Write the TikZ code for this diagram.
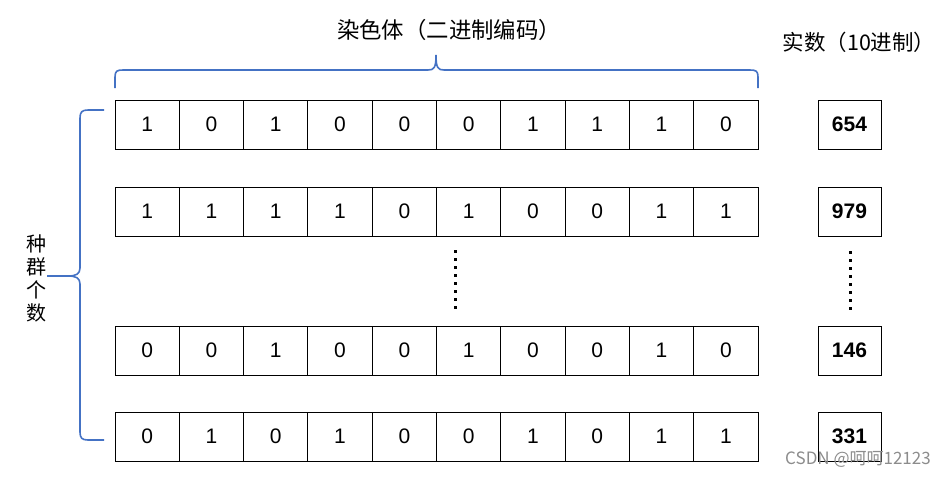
\documentclass[tikz,border=0pt]{standalone}
\usepackage{fontspec}
\setmainfont{Liberation Sans}
\newfontfamily\cjk{Noto Sans CJK SC}
\definecolor{braceblue}{HTML}{4472C4}

\begin{document}
\begin{tikzpicture}[x=1pt,y=-1pt]
	\tikzset{cell/.style={draw, line width=0.9pt, minimum width=64.3pt, minimum height=49pt, inner sep=0pt, font=\fontsize{21}{24}\selectfont},
		realbox/.style={cell, minimum width=63pt, font=\fontsize{21}{24}\selectfont\bfseries},
		bracepath/.style={draw=braceblue, line width=1.6pt},
		dots/.style={line width=3pt, dash pattern=on 3pt off 5pt}}
\useasboundingbox (0,0) rectangle (947,477);

% chromosome rows
\foreach \r/\y/\bits in {a/124.5/{1,0,1,0,0,0,1,1,1,0},b/211.5/{1,1,1,1,0,1,0,0,1,1},c/350.5/{0,0,1,0,0,1,0,0,1,0},d/436.5/{0,1,0,1,0,0,1,0,1,1}}
{
	\foreach \b [count=\i] in \bits
	{
		\node[cell] (\r\i) at ({115+64.3*(\i-0.5)},\y) {\b};
	}
}

% real values
\node[realbox] (ra) at (849.5,124.5) {654};
\node[realbox] (rb) at (849.5,211.5) {979};
\node[realbox] (rc) at (849.5,350.5) {146};
\node[realbox] (rd) at (849.5,436.5) {331};

% labels
\node[font=\cjk\fontsize{22.4}{24}\selectfont] (chrom) at (449,30) {染色体（二进制编码）};
\node[font=\cjk\fontsize{21.5}{24}\selectfont] (real) at (859,42) {实数（10进制）};
\node[align=center, inner sep=0pt, font=\cjk\fontsize{20}{23}\selectfont] (pop) at (36,278) {种\\群\\个\\数};

% braces
\path[bracepath] (115,88) -- (115,77) .. controls (115,71) and (117,70) .. (123,70) -- (428,70)
	.. controls (434,70) and (436,68) .. (436,55) .. controls (436,68) and (438,70) .. (444,70)
	-- (750,70) .. controls (756,70) and (758,71) .. (758,77) -- (758,88);
\path[bracepath] (104,110) -- (88,110) .. controls (82,110) and (80,112) .. (80,118) -- (80,268)
	.. controls (80,274) and (76,276) .. (68,276) -- (47,276) -- (68,276)
	.. controls (76,276) and (80,278) .. (80,284) -- (80,432) .. controls (80,438) and (82,440) .. (88,440) -- (104,440);

% dots
\draw[dots] (455,250) -- (455,313);
\draw[dots] (850,251) -- (850,314);

\node[text=black!45, inner sep=0pt, font=\cjk\fontsize{17}{19}\selectfont] (mark) at (858,459) {CSDN @呵呵12123};

		\end{tikzpicture}
\end{document}
